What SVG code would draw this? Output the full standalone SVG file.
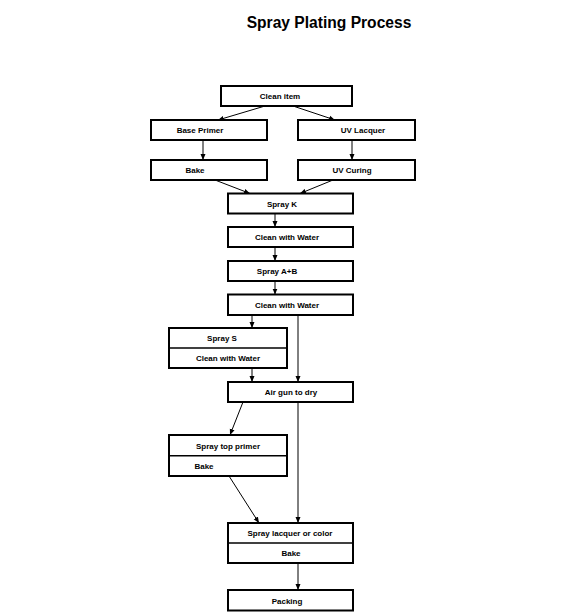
<svg xmlns="http://www.w3.org/2000/svg" width="573" height="615" viewBox="0 0 573 615">
<defs>
<style>
.box{fill:#fff;stroke:#000;stroke-width:2}
.div{stroke:#000;stroke-width:1.5}
.t{font-family:"Liberation Sans",Arial,sans-serif;font-weight:bold;font-size:8px;fill:#000;text-anchor:middle}
.title{font-family:"Liberation Sans",Arial,sans-serif;font-weight:bold;font-size:15.6px;fill:#000;text-anchor:middle}
.c{stroke:#000;stroke-width:1;fill:none;marker-end:url(#ah)}
</style>
<marker id="ah" markerUnits="userSpaceOnUse" markerWidth="6" markerHeight="6" viewBox="0 0 6 6" refX="6" refY="3" orient="auto">
<path d="M0,0.5 L6,3 L0,5.5 Z" fill="#000"/>
</marker>
</defs>
<rect width="573" height="615" fill="#fff"/>
<text class="title" x="329" y="28">Spray Plating Process</text>

<g id="connectors">
<line class="c" x1="265" y1="106" x2="218" y2="120"/>
<line class="c" x1="293" y1="106" x2="335" y2="120"/>
<line class="c" x1="203" y1="140" x2="203" y2="160"/>
<line class="c" x1="352" y1="140" x2="352" y2="160"/>
<line class="c" x1="215" y1="180" x2="250" y2="193.5"/>
<line class="c" x1="333" y1="180" x2="300" y2="193.5"/>
<line class="c" x1="275" y1="213.5" x2="275" y2="227"/>
<line class="c" x1="275" y1="247" x2="275" y2="261"/>
<line class="c" x1="275" y1="281" x2="275" y2="294.5"/>
<line class="c" x1="252" y1="315" x2="252" y2="328"/>
<line class="c" x1="298" y1="315" x2="298" y2="382"/>
<line class="c" x1="252" y1="368" x2="252" y2="382"/>
<line class="c" x1="243" y1="402" x2="230" y2="435"/>
<line class="c" x1="298" y1="402" x2="298" y2="523"/>
<line class="c" x1="229" y1="476" x2="259" y2="523"/>
<line class="c" x1="298" y1="563" x2="298" y2="590"/>
</g>

<g id="clean-item"><rect class="box" x="221" y="86" width="131" height="20"/><text class="t" x="280" y="99">Clean item</text></g>
<g id="base-primer"><rect class="box" x="151" y="120" width="116" height="20"/><text class="t" x="200" y="133">Base Primer</text></g>
<g id="uv-lacquer"><rect class="box" x="298" y="120" width="117" height="20"/><text class="t" x="363" y="133">UV Lacquer</text></g>
<g id="bake1"><rect class="box" x="151" y="160" width="116" height="20"/><text class="t" x="195" y="173">Bake</text></g>
<g id="uv-curing"><rect class="box" x="298" y="160" width="117" height="20"/><text class="t" x="352" y="173">UV Curing</text></g>
<g id="spray-k"><rect class="box" x="228" y="193.5" width="125" height="20"/><text class="t" x="282" y="206.5">Spray K</text></g>
<g id="clean-water1"><rect class="box" x="228" y="227" width="125" height="20"/><text class="t" x="287" y="240">Clean with Water</text></g>
<g id="spray-ab"><rect class="box" x="228" y="261" width="125" height="20"/><text class="t" x="277" y="274">Spray A+B</text></g>
<g id="clean-water2"><rect class="box" x="228" y="294.5" width="125" height="20.5"/><text class="t" x="287" y="308">Clean with Water</text></g>
<g id="spray-s"><rect class="box" x="169" y="328" width="118" height="40"/><line class="div" x1="169" y1="348" x2="287" y2="348"/><text class="t" x="222" y="341">Spray S</text><text class="t" x="228" y="361">Clean with Water</text></g>
<g id="air-gun"><rect class="box" x="228" y="382" width="125" height="20"/><text class="t" x="291" y="395">Air gun to dry</text></g>
<g id="spray-top-primer"><rect class="box" x="169" y="435" width="118" height="41"/><line class="div" x1="169" y1="455.7" x2="287" y2="455.7"/><text class="t" x="228" y="448.5">Spray top primer</text><text class="t" x="204" y="469">Bake</text></g>
<g id="spray-lacquer"><rect class="box" x="228" y="523" width="125" height="40"/><line class="div" x1="228" y1="543" x2="353" y2="543"/><text class="t" x="290" y="536">Spray lacquer or color</text><text class="t" x="291" y="556">Bake</text></g>
<g id="packing"><rect class="box" x="228" y="590" width="125" height="20.5"/><text class="t" x="287" y="603.5">Packing</text></g>
</svg>
